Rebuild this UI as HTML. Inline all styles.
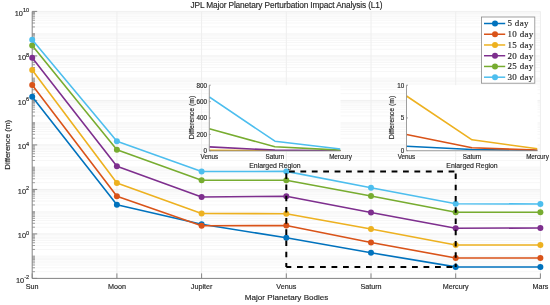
<!DOCTYPE html><html><head><meta charset="utf-8"><style>html,body{margin:0;padding:0;background:#fff;overflow:hidden}svg{display:block;will-change:transform}text{stroke:#262626;stroke-width:.15px}</style></head><body>
<svg width="550" height="305" viewBox="0 0 550 305">
<rect width="550" height="305" fill="#fff"/>
<g id="grid"><line x1="32.2" y1="271.70" x2="540.5" y2="271.70" stroke="#f7f7f7" stroke-width="1"/><line x1="32.2" y1="267.78" x2="540.5" y2="267.78" stroke="#f7f7f7" stroke-width="1"/><line x1="32.2" y1="265.00" x2="540.5" y2="265.00" stroke="#f7f7f7" stroke-width="1"/><line x1="32.2" y1="262.85" x2="540.5" y2="262.85" stroke="#f7f7f7" stroke-width="1"/><line x1="32.2" y1="261.09" x2="540.5" y2="261.09" stroke="#f7f7f7" stroke-width="1"/><line x1="32.2" y1="259.60" x2="540.5" y2="259.60" stroke="#f7f7f7" stroke-width="1"/><line x1="32.2" y1="258.31" x2="540.5" y2="258.31" stroke="#f7f7f7" stroke-width="1"/><line x1="32.2" y1="257.17" x2="540.5" y2="257.17" stroke="#f7f7f7" stroke-width="1"/><line x1="32.2" y1="256.15" x2="540.5" y2="256.15" stroke="#f7f7f7" stroke-width="1"/><line x1="32.2" y1="249.45" x2="540.5" y2="249.45" stroke="#f7f7f7" stroke-width="1"/><line x1="32.2" y1="245.53" x2="540.5" y2="245.53" stroke="#f7f7f7" stroke-width="1"/><line x1="32.2" y1="242.75" x2="540.5" y2="242.75" stroke="#f7f7f7" stroke-width="1"/><line x1="32.2" y1="240.60" x2="540.5" y2="240.60" stroke="#f7f7f7" stroke-width="1"/><line x1="32.2" y1="238.84" x2="540.5" y2="238.84" stroke="#f7f7f7" stroke-width="1"/><line x1="32.2" y1="237.35" x2="540.5" y2="237.35" stroke="#f7f7f7" stroke-width="1"/><line x1="32.2" y1="236.06" x2="540.5" y2="236.06" stroke="#f7f7f7" stroke-width="1"/><line x1="32.2" y1="234.92" x2="540.5" y2="234.92" stroke="#f7f7f7" stroke-width="1"/><line x1="32.2" y1="227.20" x2="540.5" y2="227.20" stroke="#f7f7f7" stroke-width="1"/><line x1="32.2" y1="223.28" x2="540.5" y2="223.28" stroke="#f7f7f7" stroke-width="1"/><line x1="32.2" y1="220.50" x2="540.5" y2="220.50" stroke="#f7f7f7" stroke-width="1"/><line x1="32.2" y1="218.35" x2="540.5" y2="218.35" stroke="#f7f7f7" stroke-width="1"/><line x1="32.2" y1="216.59" x2="540.5" y2="216.59" stroke="#f7f7f7" stroke-width="1"/><line x1="32.2" y1="215.10" x2="540.5" y2="215.10" stroke="#f7f7f7" stroke-width="1"/><line x1="32.2" y1="213.81" x2="540.5" y2="213.81" stroke="#f7f7f7" stroke-width="1"/><line x1="32.2" y1="212.67" x2="540.5" y2="212.67" stroke="#f7f7f7" stroke-width="1"/><line x1="32.2" y1="211.65" x2="540.5" y2="211.65" stroke="#f7f7f7" stroke-width="1"/><line x1="32.2" y1="204.95" x2="540.5" y2="204.95" stroke="#f7f7f7" stroke-width="1"/><line x1="32.2" y1="201.03" x2="540.5" y2="201.03" stroke="#f7f7f7" stroke-width="1"/><line x1="32.2" y1="198.25" x2="540.5" y2="198.25" stroke="#f7f7f7" stroke-width="1"/><line x1="32.2" y1="196.10" x2="540.5" y2="196.10" stroke="#f7f7f7" stroke-width="1"/><line x1="32.2" y1="194.34" x2="540.5" y2="194.34" stroke="#f7f7f7" stroke-width="1"/><line x1="32.2" y1="192.85" x2="540.5" y2="192.85" stroke="#f7f7f7" stroke-width="1"/><line x1="32.2" y1="191.56" x2="540.5" y2="191.56" stroke="#f7f7f7" stroke-width="1"/><line x1="32.2" y1="190.42" x2="540.5" y2="190.42" stroke="#f7f7f7" stroke-width="1"/><line x1="32.2" y1="182.70" x2="540.5" y2="182.70" stroke="#f7f7f7" stroke-width="1"/><line x1="32.2" y1="178.78" x2="540.5" y2="178.78" stroke="#f7f7f7" stroke-width="1"/><line x1="32.2" y1="176.00" x2="540.5" y2="176.00" stroke="#f7f7f7" stroke-width="1"/><line x1="32.2" y1="173.85" x2="540.5" y2="173.85" stroke="#f7f7f7" stroke-width="1"/><line x1="32.2" y1="172.09" x2="540.5" y2="172.09" stroke="#f7f7f7" stroke-width="1"/><line x1="32.2" y1="170.60" x2="540.5" y2="170.60" stroke="#f7f7f7" stroke-width="1"/><line x1="32.2" y1="169.31" x2="540.5" y2="169.31" stroke="#f7f7f7" stroke-width="1"/><line x1="32.2" y1="168.17" x2="540.5" y2="168.17" stroke="#f7f7f7" stroke-width="1"/><line x1="32.2" y1="167.15" x2="540.5" y2="167.15" stroke="#f7f7f7" stroke-width="1"/><line x1="32.2" y1="160.45" x2="540.5" y2="160.45" stroke="#f7f7f7" stroke-width="1"/><line x1="32.2" y1="156.53" x2="540.5" y2="156.53" stroke="#f7f7f7" stroke-width="1"/><line x1="32.2" y1="153.75" x2="540.5" y2="153.75" stroke="#f7f7f7" stroke-width="1"/><line x1="32.2" y1="151.60" x2="540.5" y2="151.60" stroke="#f7f7f7" stroke-width="1"/><line x1="32.2" y1="149.84" x2="540.5" y2="149.84" stroke="#f7f7f7" stroke-width="1"/><line x1="32.2" y1="148.35" x2="540.5" y2="148.35" stroke="#f7f7f7" stroke-width="1"/><line x1="32.2" y1="147.06" x2="540.5" y2="147.06" stroke="#f7f7f7" stroke-width="1"/><line x1="32.2" y1="145.92" x2="540.5" y2="145.92" stroke="#f7f7f7" stroke-width="1"/><line x1="32.2" y1="138.20" x2="540.5" y2="138.20" stroke="#f7f7f7" stroke-width="1"/><line x1="32.2" y1="134.28" x2="540.5" y2="134.28" stroke="#f7f7f7" stroke-width="1"/><line x1="32.2" y1="131.50" x2="540.5" y2="131.50" stroke="#f7f7f7" stroke-width="1"/><line x1="32.2" y1="129.35" x2="540.5" y2="129.35" stroke="#f7f7f7" stroke-width="1"/><line x1="32.2" y1="127.59" x2="540.5" y2="127.59" stroke="#f7f7f7" stroke-width="1"/><line x1="32.2" y1="126.10" x2="540.5" y2="126.10" stroke="#f7f7f7" stroke-width="1"/><line x1="32.2" y1="124.81" x2="540.5" y2="124.81" stroke="#f7f7f7" stroke-width="1"/><line x1="32.2" y1="123.67" x2="540.5" y2="123.67" stroke="#f7f7f7" stroke-width="1"/><line x1="32.2" y1="122.65" x2="540.5" y2="122.65" stroke="#f7f7f7" stroke-width="1"/><line x1="32.2" y1="115.95" x2="540.5" y2="115.95" stroke="#f7f7f7" stroke-width="1"/><line x1="32.2" y1="112.03" x2="540.5" y2="112.03" stroke="#f7f7f7" stroke-width="1"/><line x1="32.2" y1="109.25" x2="540.5" y2="109.25" stroke="#f7f7f7" stroke-width="1"/><line x1="32.2" y1="107.10" x2="540.5" y2="107.10" stroke="#f7f7f7" stroke-width="1"/><line x1="32.2" y1="105.34" x2="540.5" y2="105.34" stroke="#f7f7f7" stroke-width="1"/><line x1="32.2" y1="103.85" x2="540.5" y2="103.85" stroke="#f7f7f7" stroke-width="1"/><line x1="32.2" y1="102.56" x2="540.5" y2="102.56" stroke="#f7f7f7" stroke-width="1"/><line x1="32.2" y1="101.42" x2="540.5" y2="101.42" stroke="#f7f7f7" stroke-width="1"/><line x1="32.2" y1="93.70" x2="540.5" y2="93.70" stroke="#f7f7f7" stroke-width="1"/><line x1="32.2" y1="89.78" x2="540.5" y2="89.78" stroke="#f7f7f7" stroke-width="1"/><line x1="32.2" y1="87.00" x2="540.5" y2="87.00" stroke="#f7f7f7" stroke-width="1"/><line x1="32.2" y1="84.85" x2="540.5" y2="84.85" stroke="#f7f7f7" stroke-width="1"/><line x1="32.2" y1="83.09" x2="540.5" y2="83.09" stroke="#f7f7f7" stroke-width="1"/><line x1="32.2" y1="81.60" x2="540.5" y2="81.60" stroke="#f7f7f7" stroke-width="1"/><line x1="32.2" y1="80.31" x2="540.5" y2="80.31" stroke="#f7f7f7" stroke-width="1"/><line x1="32.2" y1="79.17" x2="540.5" y2="79.17" stroke="#f7f7f7" stroke-width="1"/><line x1="32.2" y1="78.15" x2="540.5" y2="78.15" stroke="#f7f7f7" stroke-width="1"/><line x1="32.2" y1="71.45" x2="540.5" y2="71.45" stroke="#f7f7f7" stroke-width="1"/><line x1="32.2" y1="67.53" x2="540.5" y2="67.53" stroke="#f7f7f7" stroke-width="1"/><line x1="32.2" y1="64.75" x2="540.5" y2="64.75" stroke="#f7f7f7" stroke-width="1"/><line x1="32.2" y1="62.60" x2="540.5" y2="62.60" stroke="#f7f7f7" stroke-width="1"/><line x1="32.2" y1="60.84" x2="540.5" y2="60.84" stroke="#f7f7f7" stroke-width="1"/><line x1="32.2" y1="59.35" x2="540.5" y2="59.35" stroke="#f7f7f7" stroke-width="1"/><line x1="32.2" y1="58.06" x2="540.5" y2="58.06" stroke="#f7f7f7" stroke-width="1"/><line x1="32.2" y1="56.92" x2="540.5" y2="56.92" stroke="#f7f7f7" stroke-width="1"/><line x1="32.2" y1="49.20" x2="540.5" y2="49.20" stroke="#f7f7f7" stroke-width="1"/><line x1="32.2" y1="45.28" x2="540.5" y2="45.28" stroke="#f7f7f7" stroke-width="1"/><line x1="32.2" y1="42.50" x2="540.5" y2="42.50" stroke="#f7f7f7" stroke-width="1"/><line x1="32.2" y1="40.35" x2="540.5" y2="40.35" stroke="#f7f7f7" stroke-width="1"/><line x1="32.2" y1="38.59" x2="540.5" y2="38.59" stroke="#f7f7f7" stroke-width="1"/><line x1="32.2" y1="37.10" x2="540.5" y2="37.10" stroke="#f7f7f7" stroke-width="1"/><line x1="32.2" y1="35.81" x2="540.5" y2="35.81" stroke="#f7f7f7" stroke-width="1"/><line x1="32.2" y1="34.67" x2="540.5" y2="34.67" stroke="#f7f7f7" stroke-width="1"/><line x1="32.2" y1="33.65" x2="540.5" y2="33.65" stroke="#f7f7f7" stroke-width="1"/><line x1="32.2" y1="26.95" x2="540.5" y2="26.95" stroke="#f7f7f7" stroke-width="1"/><line x1="32.2" y1="23.03" x2="540.5" y2="23.03" stroke="#f7f7f7" stroke-width="1"/><line x1="32.2" y1="20.25" x2="540.5" y2="20.25" stroke="#f7f7f7" stroke-width="1"/><line x1="32.2" y1="18.10" x2="540.5" y2="18.10" stroke="#f7f7f7" stroke-width="1"/><line x1="32.2" y1="16.34" x2="540.5" y2="16.34" stroke="#f7f7f7" stroke-width="1"/><line x1="32.2" y1="14.85" x2="540.5" y2="14.85" stroke="#f7f7f7" stroke-width="1"/><line x1="32.2" y1="13.56" x2="540.5" y2="13.56" stroke="#f7f7f7" stroke-width="1"/><line x1="32.2" y1="12.42" x2="540.5" y2="12.42" stroke="#f7f7f7" stroke-width="1"/><line x1="32.2" y1="278.40" x2="540.5" y2="278.40" stroke="#f0f0f0" stroke-width="1"/><line x1="32.2" y1="233.90" x2="540.5" y2="233.90" stroke="#f0f0f0" stroke-width="1"/><line x1="32.2" y1="189.40" x2="540.5" y2="189.40" stroke="#f0f0f0" stroke-width="1"/><line x1="32.2" y1="144.90" x2="540.5" y2="144.90" stroke="#f0f0f0" stroke-width="1"/><line x1="32.2" y1="100.40" x2="540.5" y2="100.40" stroke="#f0f0f0" stroke-width="1"/><line x1="32.2" y1="55.90" x2="540.5" y2="55.90" stroke="#f0f0f0" stroke-width="1"/><line x1="32.2" y1="11.40" x2="540.5" y2="11.40" stroke="#f0f0f0" stroke-width="1"/><line x1="116.90" y1="11.40" x2="116.90" y2="278.4" stroke="#eeeeee" stroke-width="1"/><line x1="201.60" y1="11.40" x2="201.60" y2="278.4" stroke="#eeeeee" stroke-width="1"/><line x1="286.30" y1="11.40" x2="286.30" y2="278.4" stroke="#eeeeee" stroke-width="1"/><line x1="371.00" y1="11.40" x2="371.00" y2="278.4" stroke="#eeeeee" stroke-width="1"/><line x1="455.70" y1="11.40" x2="455.70" y2="278.4" stroke="#eeeeee" stroke-width="1"/><line x1="540.40" y1="11.40" x2="540.40" y2="278.4" stroke="#eeeeee" stroke-width="1"/></g>
<g id="axes"><line x1="32.2" y1="11.40" x2="32.2" y2="278.4" stroke="#858585" stroke-width="1"/><line x1="32.2" y1="278.4" x2="540.5" y2="278.4" stroke="#858585" stroke-width="1"/><line x1="32.2" y1="278.40" x2="37.2" y2="278.40" stroke="#858585" stroke-width="1"/><line x1="32.2" y1="233.90" x2="37.2" y2="233.90" stroke="#858585" stroke-width="1"/><line x1="32.2" y1="189.40" x2="37.2" y2="189.40" stroke="#858585" stroke-width="1"/><line x1="32.2" y1="144.90" x2="37.2" y2="144.90" stroke="#858585" stroke-width="1"/><line x1="32.2" y1="100.40" x2="37.2" y2="100.40" stroke="#858585" stroke-width="1"/><line x1="32.2" y1="55.90" x2="37.2" y2="55.90" stroke="#858585" stroke-width="1"/><line x1="32.2" y1="11.40" x2="37.2" y2="11.40" stroke="#858585" stroke-width="1"/><line x1="32.2" y1="271.70" x2="35.0" y2="271.70" stroke="#858585" stroke-width="0.8"/><line x1="32.2" y1="267.78" x2="35.0" y2="267.78" stroke="#858585" stroke-width="0.8"/><line x1="32.2" y1="265.00" x2="35.0" y2="265.00" stroke="#858585" stroke-width="0.8"/><line x1="32.2" y1="262.85" x2="35.0" y2="262.85" stroke="#858585" stroke-width="0.8"/><line x1="32.2" y1="261.09" x2="35.0" y2="261.09" stroke="#858585" stroke-width="0.8"/><line x1="32.2" y1="259.60" x2="35.0" y2="259.60" stroke="#858585" stroke-width="0.8"/><line x1="32.2" y1="258.31" x2="35.0" y2="258.31" stroke="#858585" stroke-width="0.8"/><line x1="32.2" y1="257.17" x2="35.0" y2="257.17" stroke="#858585" stroke-width="0.8"/><line x1="32.2" y1="256.15" x2="35.0" y2="256.15" stroke="#858585" stroke-width="0.8"/><line x1="32.2" y1="249.45" x2="35.0" y2="249.45" stroke="#858585" stroke-width="0.8"/><line x1="32.2" y1="245.53" x2="35.0" y2="245.53" stroke="#858585" stroke-width="0.8"/><line x1="32.2" y1="242.75" x2="35.0" y2="242.75" stroke="#858585" stroke-width="0.8"/><line x1="32.2" y1="240.60" x2="35.0" y2="240.60" stroke="#858585" stroke-width="0.8"/><line x1="32.2" y1="238.84" x2="35.0" y2="238.84" stroke="#858585" stroke-width="0.8"/><line x1="32.2" y1="237.35" x2="35.0" y2="237.35" stroke="#858585" stroke-width="0.8"/><line x1="32.2" y1="236.06" x2="35.0" y2="236.06" stroke="#858585" stroke-width="0.8"/><line x1="32.2" y1="234.92" x2="35.0" y2="234.92" stroke="#858585" stroke-width="0.8"/><line x1="32.2" y1="227.20" x2="35.0" y2="227.20" stroke="#858585" stroke-width="0.8"/><line x1="32.2" y1="223.28" x2="35.0" y2="223.28" stroke="#858585" stroke-width="0.8"/><line x1="32.2" y1="220.50" x2="35.0" y2="220.50" stroke="#858585" stroke-width="0.8"/><line x1="32.2" y1="218.35" x2="35.0" y2="218.35" stroke="#858585" stroke-width="0.8"/><line x1="32.2" y1="216.59" x2="35.0" y2="216.59" stroke="#858585" stroke-width="0.8"/><line x1="32.2" y1="215.10" x2="35.0" y2="215.10" stroke="#858585" stroke-width="0.8"/><line x1="32.2" y1="213.81" x2="35.0" y2="213.81" stroke="#858585" stroke-width="0.8"/><line x1="32.2" y1="212.67" x2="35.0" y2="212.67" stroke="#858585" stroke-width="0.8"/><line x1="32.2" y1="211.65" x2="35.0" y2="211.65" stroke="#858585" stroke-width="0.8"/><line x1="32.2" y1="204.95" x2="35.0" y2="204.95" stroke="#858585" stroke-width="0.8"/><line x1="32.2" y1="201.03" x2="35.0" y2="201.03" stroke="#858585" stroke-width="0.8"/><line x1="32.2" y1="198.25" x2="35.0" y2="198.25" stroke="#858585" stroke-width="0.8"/><line x1="32.2" y1="196.10" x2="35.0" y2="196.10" stroke="#858585" stroke-width="0.8"/><line x1="32.2" y1="194.34" x2="35.0" y2="194.34" stroke="#858585" stroke-width="0.8"/><line x1="32.2" y1="192.85" x2="35.0" y2="192.85" stroke="#858585" stroke-width="0.8"/><line x1="32.2" y1="191.56" x2="35.0" y2="191.56" stroke="#858585" stroke-width="0.8"/><line x1="32.2" y1="190.42" x2="35.0" y2="190.42" stroke="#858585" stroke-width="0.8"/><line x1="32.2" y1="182.70" x2="35.0" y2="182.70" stroke="#858585" stroke-width="0.8"/><line x1="32.2" y1="178.78" x2="35.0" y2="178.78" stroke="#858585" stroke-width="0.8"/><line x1="32.2" y1="176.00" x2="35.0" y2="176.00" stroke="#858585" stroke-width="0.8"/><line x1="32.2" y1="173.85" x2="35.0" y2="173.85" stroke="#858585" stroke-width="0.8"/><line x1="32.2" y1="172.09" x2="35.0" y2="172.09" stroke="#858585" stroke-width="0.8"/><line x1="32.2" y1="170.60" x2="35.0" y2="170.60" stroke="#858585" stroke-width="0.8"/><line x1="32.2" y1="169.31" x2="35.0" y2="169.31" stroke="#858585" stroke-width="0.8"/><line x1="32.2" y1="168.17" x2="35.0" y2="168.17" stroke="#858585" stroke-width="0.8"/><line x1="32.2" y1="167.15" x2="35.0" y2="167.15" stroke="#858585" stroke-width="0.8"/><line x1="32.2" y1="160.45" x2="35.0" y2="160.45" stroke="#858585" stroke-width="0.8"/><line x1="32.2" y1="156.53" x2="35.0" y2="156.53" stroke="#858585" stroke-width="0.8"/><line x1="32.2" y1="153.75" x2="35.0" y2="153.75" stroke="#858585" stroke-width="0.8"/><line x1="32.2" y1="151.60" x2="35.0" y2="151.60" stroke="#858585" stroke-width="0.8"/><line x1="32.2" y1="149.84" x2="35.0" y2="149.84" stroke="#858585" stroke-width="0.8"/><line x1="32.2" y1="148.35" x2="35.0" y2="148.35" stroke="#858585" stroke-width="0.8"/><line x1="32.2" y1="147.06" x2="35.0" y2="147.06" stroke="#858585" stroke-width="0.8"/><line x1="32.2" y1="145.92" x2="35.0" y2="145.92" stroke="#858585" stroke-width="0.8"/><line x1="32.2" y1="138.20" x2="35.0" y2="138.20" stroke="#858585" stroke-width="0.8"/><line x1="32.2" y1="134.28" x2="35.0" y2="134.28" stroke="#858585" stroke-width="0.8"/><line x1="32.2" y1="131.50" x2="35.0" y2="131.50" stroke="#858585" stroke-width="0.8"/><line x1="32.2" y1="129.35" x2="35.0" y2="129.35" stroke="#858585" stroke-width="0.8"/><line x1="32.2" y1="127.59" x2="35.0" y2="127.59" stroke="#858585" stroke-width="0.8"/><line x1="32.2" y1="126.10" x2="35.0" y2="126.10" stroke="#858585" stroke-width="0.8"/><line x1="32.2" y1="124.81" x2="35.0" y2="124.81" stroke="#858585" stroke-width="0.8"/><line x1="32.2" y1="123.67" x2="35.0" y2="123.67" stroke="#858585" stroke-width="0.8"/><line x1="32.2" y1="122.65" x2="35.0" y2="122.65" stroke="#858585" stroke-width="0.8"/><line x1="32.2" y1="115.95" x2="35.0" y2="115.95" stroke="#858585" stroke-width="0.8"/><line x1="32.2" y1="112.03" x2="35.0" y2="112.03" stroke="#858585" stroke-width="0.8"/><line x1="32.2" y1="109.25" x2="35.0" y2="109.25" stroke="#858585" stroke-width="0.8"/><line x1="32.2" y1="107.10" x2="35.0" y2="107.10" stroke="#858585" stroke-width="0.8"/><line x1="32.2" y1="105.34" x2="35.0" y2="105.34" stroke="#858585" stroke-width="0.8"/><line x1="32.2" y1="103.85" x2="35.0" y2="103.85" stroke="#858585" stroke-width="0.8"/><line x1="32.2" y1="102.56" x2="35.0" y2="102.56" stroke="#858585" stroke-width="0.8"/><line x1="32.2" y1="101.42" x2="35.0" y2="101.42" stroke="#858585" stroke-width="0.8"/><line x1="32.2" y1="93.70" x2="35.0" y2="93.70" stroke="#858585" stroke-width="0.8"/><line x1="32.2" y1="89.78" x2="35.0" y2="89.78" stroke="#858585" stroke-width="0.8"/><line x1="32.2" y1="87.00" x2="35.0" y2="87.00" stroke="#858585" stroke-width="0.8"/><line x1="32.2" y1="84.85" x2="35.0" y2="84.85" stroke="#858585" stroke-width="0.8"/><line x1="32.2" y1="83.09" x2="35.0" y2="83.09" stroke="#858585" stroke-width="0.8"/><line x1="32.2" y1="81.60" x2="35.0" y2="81.60" stroke="#858585" stroke-width="0.8"/><line x1="32.2" y1="80.31" x2="35.0" y2="80.31" stroke="#858585" stroke-width="0.8"/><line x1="32.2" y1="79.17" x2="35.0" y2="79.17" stroke="#858585" stroke-width="0.8"/><line x1="32.2" y1="78.15" x2="35.0" y2="78.15" stroke="#858585" stroke-width="0.8"/><line x1="32.2" y1="71.45" x2="35.0" y2="71.45" stroke="#858585" stroke-width="0.8"/><line x1="32.2" y1="67.53" x2="35.0" y2="67.53" stroke="#858585" stroke-width="0.8"/><line x1="32.2" y1="64.75" x2="35.0" y2="64.75" stroke="#858585" stroke-width="0.8"/><line x1="32.2" y1="62.60" x2="35.0" y2="62.60" stroke="#858585" stroke-width="0.8"/><line x1="32.2" y1="60.84" x2="35.0" y2="60.84" stroke="#858585" stroke-width="0.8"/><line x1="32.2" y1="59.35" x2="35.0" y2="59.35" stroke="#858585" stroke-width="0.8"/><line x1="32.2" y1="58.06" x2="35.0" y2="58.06" stroke="#858585" stroke-width="0.8"/><line x1="32.2" y1="56.92" x2="35.0" y2="56.92" stroke="#858585" stroke-width="0.8"/><line x1="32.2" y1="49.20" x2="35.0" y2="49.20" stroke="#858585" stroke-width="0.8"/><line x1="32.2" y1="45.28" x2="35.0" y2="45.28" stroke="#858585" stroke-width="0.8"/><line x1="32.2" y1="42.50" x2="35.0" y2="42.50" stroke="#858585" stroke-width="0.8"/><line x1="32.2" y1="40.35" x2="35.0" y2="40.35" stroke="#858585" stroke-width="0.8"/><line x1="32.2" y1="38.59" x2="35.0" y2="38.59" stroke="#858585" stroke-width="0.8"/><line x1="32.2" y1="37.10" x2="35.0" y2="37.10" stroke="#858585" stroke-width="0.8"/><line x1="32.2" y1="35.81" x2="35.0" y2="35.81" stroke="#858585" stroke-width="0.8"/><line x1="32.2" y1="34.67" x2="35.0" y2="34.67" stroke="#858585" stroke-width="0.8"/><line x1="32.2" y1="33.65" x2="35.0" y2="33.65" stroke="#858585" stroke-width="0.8"/><line x1="32.2" y1="26.95" x2="35.0" y2="26.95" stroke="#858585" stroke-width="0.8"/><line x1="32.2" y1="23.03" x2="35.0" y2="23.03" stroke="#858585" stroke-width="0.8"/><line x1="32.2" y1="20.25" x2="35.0" y2="20.25" stroke="#858585" stroke-width="0.8"/><line x1="32.2" y1="18.10" x2="35.0" y2="18.10" stroke="#858585" stroke-width="0.8"/><line x1="32.2" y1="16.34" x2="35.0" y2="16.34" stroke="#858585" stroke-width="0.8"/><line x1="32.2" y1="14.85" x2="35.0" y2="14.85" stroke="#858585" stroke-width="0.8"/><line x1="32.2" y1="13.56" x2="35.0" y2="13.56" stroke="#858585" stroke-width="0.8"/><line x1="32.2" y1="12.42" x2="35.0" y2="12.42" stroke="#858585" stroke-width="0.8"/><line x1="32.20" y1="278.4" x2="32.20" y2="273.4" stroke="#858585" stroke-width="1"/><line x1="116.90" y1="278.4" x2="116.90" y2="273.4" stroke="#858585" stroke-width="1"/><line x1="201.60" y1="278.4" x2="201.60" y2="273.4" stroke="#858585" stroke-width="1"/><line x1="286.30" y1="278.4" x2="286.30" y2="273.4" stroke="#858585" stroke-width="1"/><line x1="371.00" y1="278.4" x2="371.00" y2="273.4" stroke="#858585" stroke-width="1"/><line x1="455.70" y1="278.4" x2="455.70" y2="273.4" stroke="#858585" stroke-width="1"/><line x1="540.40" y1="278.4" x2="540.40" y2="273.4" stroke="#858585" stroke-width="1"/></g>
<g id="series">
<polyline points="32.20,96.70 116.90,204.80 201.60,224.30 286.30,237.80 371.00,252.80 455.70,266.90 540.40,267.00" fill="none" stroke="#0072BD" stroke-width="1.6" stroke-linejoin="round"/>
<circle cx="32.20" cy="96.70" r="3" fill="#0072BD"/><circle cx="116.90" cy="204.80" r="3" fill="#0072BD"/><circle cx="201.60" cy="224.30" r="3" fill="#0072BD"/><circle cx="286.30" cy="237.80" r="3" fill="#0072BD"/><circle cx="371.00" cy="252.80" r="3" fill="#0072BD"/><circle cx="455.70" cy="266.90" r="3" fill="#0072BD"/><circle cx="540.40" cy="267.00" r="3" fill="#0072BD"/>
<polyline points="32.20,85.00 116.90,196.30 201.60,225.80 286.30,225.50 371.00,242.50 455.70,258.00 540.40,258.00" fill="none" stroke="#D95319" stroke-width="1.6" stroke-linejoin="round"/>
<circle cx="32.20" cy="85.00" r="3" fill="#D95319"/><circle cx="116.90" cy="196.30" r="3" fill="#D95319"/><circle cx="201.60" cy="225.80" r="3" fill="#D95319"/><circle cx="286.30" cy="225.50" r="3" fill="#D95319"/><circle cx="371.00" cy="242.50" r="3" fill="#D95319"/><circle cx="455.70" cy="258.00" r="3" fill="#D95319"/><circle cx="540.40" cy="258.00" r="3" fill="#D95319"/>
<polyline points="32.20,70.00 116.90,183.00 201.60,213.50 286.30,213.70 371.00,229.00 455.70,245.00 540.40,245.00" fill="none" stroke="#EDB120" stroke-width="1.6" stroke-linejoin="round"/>
<circle cx="32.20" cy="70.00" r="3" fill="#EDB120"/><circle cx="116.90" cy="183.00" r="3" fill="#EDB120"/><circle cx="201.60" cy="213.50" r="3" fill="#EDB120"/><circle cx="286.30" cy="213.70" r="3" fill="#EDB120"/><circle cx="371.00" cy="229.00" r="3" fill="#EDB120"/><circle cx="455.70" cy="245.00" r="3" fill="#EDB120"/><circle cx="540.40" cy="245.00" r="3" fill="#EDB120"/>
<polyline points="32.20,57.70 116.90,166.20 201.60,197.00 286.30,196.20 371.00,212.50 455.70,228.20 540.40,228.00" fill="none" stroke="#7E2F8E" stroke-width="1.6" stroke-linejoin="round"/>
<circle cx="32.20" cy="57.70" r="3" fill="#7E2F8E"/><circle cx="116.90" cy="166.20" r="3" fill="#7E2F8E"/><circle cx="201.60" cy="197.00" r="3" fill="#7E2F8E"/><circle cx="286.30" cy="196.20" r="3" fill="#7E2F8E"/><circle cx="371.00" cy="212.50" r="3" fill="#7E2F8E"/><circle cx="455.70" cy="228.20" r="3" fill="#7E2F8E"/><circle cx="540.40" cy="228.00" r="3" fill="#7E2F8E"/>
<polyline points="32.20,45.50 116.90,149.70 201.60,180.20 286.30,180.20 371.00,196.00 455.70,212.20 540.40,212.30" fill="none" stroke="#77AC30" stroke-width="1.6" stroke-linejoin="round"/>
<circle cx="32.20" cy="45.50" r="3" fill="#77AC30"/><circle cx="116.90" cy="149.70" r="3" fill="#77AC30"/><circle cx="201.60" cy="180.20" r="3" fill="#77AC30"/><circle cx="286.30" cy="180.20" r="3" fill="#77AC30"/><circle cx="371.00" cy="196.00" r="3" fill="#77AC30"/><circle cx="455.70" cy="212.20" r="3" fill="#77AC30"/><circle cx="540.40" cy="212.30" r="3" fill="#77AC30"/>
<polyline points="32.20,39.80 116.90,141.20 201.60,171.50 286.30,171.40 371.00,187.80 455.70,203.80 540.40,204.00" fill="none" stroke="#4DBEEE" stroke-width="1.6" stroke-linejoin="round"/>
<circle cx="32.20" cy="39.80" r="3" fill="#4DBEEE"/><circle cx="116.90" cy="141.20" r="3" fill="#4DBEEE"/><circle cx="201.60" cy="171.50" r="3" fill="#4DBEEE"/><circle cx="286.30" cy="171.40" r="3" fill="#4DBEEE"/><circle cx="371.00" cy="187.80" r="3" fill="#4DBEEE"/><circle cx="455.70" cy="203.80" r="3" fill="#4DBEEE"/><circle cx="540.40" cy="204.00" r="3" fill="#4DBEEE"/>
</g>
<g id="dash">
<line x1="286.30" y1="171.4" x2="455.70" y2="171.4" stroke="#000" stroke-width="2" stroke-dasharray="5.8 5.6" stroke-dashoffset="-2.7"/>
<line x1="286.30" y1="171.4" x2="286.30" y2="266.9" stroke="#000" stroke-width="2" stroke-dasharray="5.6 5.6" stroke-dashoffset="-1.9"/>
<line x1="455.70" y1="171.4" x2="455.70" y2="266.9" stroke="#000" stroke-width="2" stroke-dasharray="5.6 5.65" stroke-dashoffset="-2.1"/>
<line x1="286.30" y1="266.9" x2="455.70" y2="266.9" stroke="#000" stroke-width="2" stroke-dasharray="5.8 5.7" stroke-dashoffset="0.8"/>
</g>
<text class="t" x="29.200000000000003" y="282.70" text-anchor="end" font-family="Liberation Sans, sans-serif" font-size="7.4" fill="#262626">10<tspan dy="-3.6" font-size="5.6">-2</tspan></text><text class="t" x="29.200000000000003" y="238.20" text-anchor="end" font-family="Liberation Sans, sans-serif" font-size="7.4" fill="#262626">10<tspan dy="-3.6" font-size="5.6">0</tspan></text><text class="t" x="29.200000000000003" y="193.70" text-anchor="end" font-family="Liberation Sans, sans-serif" font-size="7.4" fill="#262626">10<tspan dy="-3.6" font-size="5.6">2</tspan></text><text class="t" x="29.200000000000003" y="149.20" text-anchor="end" font-family="Liberation Sans, sans-serif" font-size="7.4" fill="#262626">10<tspan dy="-3.6" font-size="5.6">4</tspan></text><text class="t" x="29.200000000000003" y="104.70" text-anchor="end" font-family="Liberation Sans, sans-serif" font-size="7.4" fill="#262626">10<tspan dy="-3.6" font-size="5.6">6</tspan></text><text class="t" x="29.200000000000003" y="60.20" text-anchor="end" font-family="Liberation Sans, sans-serif" font-size="7.4" fill="#262626">10<tspan dy="-3.6" font-size="5.6">8</tspan></text><text class="t" x="29.200000000000003" y="15.70" text-anchor="end" font-family="Liberation Sans, sans-serif" font-size="7.4" fill="#262626">10<tspan dy="-3.6" font-size="5.6">10</tspan></text><text class="t" x="32.20" y="289" text-anchor="middle" font-family="Liberation Sans, sans-serif" font-size="7.2" fill="#262626">Sun</text><text class="t" x="116.90" y="289" text-anchor="middle" font-family="Liberation Sans, sans-serif" font-size="7.2" fill="#262626">Moon</text><text class="t" x="201.60" y="289" text-anchor="middle" font-family="Liberation Sans, sans-serif" font-size="7.2" fill="#262626">Jupiter</text><text class="t" x="286.30" y="289" text-anchor="middle" font-family="Liberation Sans, sans-serif" font-size="7.2" fill="#262626">Venus</text><text class="t" x="371.00" y="289" text-anchor="middle" font-family="Liberation Sans, sans-serif" font-size="7.2" fill="#262626">Saturn</text><text class="t" x="455.70" y="289" text-anchor="middle" font-family="Liberation Sans, sans-serif" font-size="7.2" fill="#262626">Mercury</text><text class="t" x="540.40" y="289" text-anchor="middle" font-family="Liberation Sans, sans-serif" font-size="7.2" fill="#262626">Mars</text><text class="t" x="286.6" y="299.8" text-anchor="middle" font-family="Liberation Sans, sans-serif" font-size="8" textLength="83.5" lengthAdjust="spacingAndGlyphs" fill="#262626">Major Planetary Bodies</text><text class="t" transform="translate(9.6,144.8) rotate(-90)" text-anchor="middle" font-family="Liberation Sans, sans-serif" font-size="7.6" textLength="50" lengthAdjust="spacingAndGlyphs" fill="#262626">Difference (m)</text><text class="t" x="286.5" y="8.3" text-anchor="middle" font-family="Liberation Sans, sans-serif" font-size="8.3" textLength="192" lengthAdjust="spacing" fill="#262626">JPL Major Planetary Perturbation Impact Analysis (L1)</text>
<clipPath id="clip209"><rect x="209.3" y="85.2" width="131.2" height="65.7"/></clipPath><rect x="209.3" y="85.2" width="131.2" height="65.7" fill="#fff"/><g clip-path="url(#clip209)"><polyline points="209.30,150.85 274.90,150.89 340.50,150.90" fill="none" stroke="#0072BD" stroke-width="1.6" stroke-linejoin="round"/><polyline points="209.30,150.70 274.90,150.87 340.50,150.89" fill="none" stroke="#D95319" stroke-width="1.6" stroke-linejoin="round"/><polyline points="209.30,150.24 274.90,150.76 340.50,150.87" fill="none" stroke="#EDB120" stroke-width="1.6" stroke-linejoin="round"/><polyline points="209.30,146.84 274.90,150.15 340.50,150.75" fill="none" stroke="#7E2F8E" stroke-width="1.6" stroke-linejoin="round"/><polyline points="209.30,128.81 274.90,146.75 340.50,150.13" fill="none" stroke="#77AC30" stroke-width="1.6" stroke-linejoin="round"/><polyline points="209.30,97.03 274.90,141.21 340.50,149.05" fill="none" stroke="#4DBEEE" stroke-width="1.6" stroke-linejoin="round"/></g><line x1="209.3" y1="85.2" x2="209.3" y2="150.9" stroke="#858585" stroke-width="0.8"/><line x1="209.3" y1="150.9" x2="340.5" y2="150.9" stroke="#858585" stroke-width="0.8"/><line x1="209.3" y1="150.90" x2="210.8" y2="150.90" stroke="#858585" stroke-width="0.8"/><text class="t" x="207.0" y="153.20" text-anchor="end" font-family="Liberation Sans, sans-serif" font-size="6.3" fill="#262626">0</text><line x1="209.3" y1="134.47" x2="210.8" y2="134.47" stroke="#858585" stroke-width="0.8"/><text class="t" x="207.0" y="136.78" text-anchor="end" font-family="Liberation Sans, sans-serif" font-size="6.3" fill="#262626">200</text><line x1="209.3" y1="118.05" x2="210.8" y2="118.05" stroke="#858585" stroke-width="0.8"/><text class="t" x="207.0" y="120.35" text-anchor="end" font-family="Liberation Sans, sans-serif" font-size="6.3" fill="#262626">400</text><line x1="209.3" y1="101.62" x2="210.8" y2="101.62" stroke="#858585" stroke-width="0.8"/><text class="t" x="207.0" y="103.92" text-anchor="end" font-family="Liberation Sans, sans-serif" font-size="6.3" fill="#262626">600</text><line x1="209.3" y1="85.20" x2="210.8" y2="85.20" stroke="#858585" stroke-width="0.8"/><text class="t" x="207.0" y="87.50" text-anchor="end" font-family="Liberation Sans, sans-serif" font-size="6.3" fill="#262626">800</text><text class="t" x="209.30" y="158.9" text-anchor="middle" font-family="Liberation Sans, sans-serif" font-size="6.3" fill="#262626">Venus</text><text class="t" x="274.90" y="158.9" text-anchor="middle" font-family="Liberation Sans, sans-serif" font-size="6.3" fill="#262626">Saturn</text><text class="t" x="340.50" y="158.9" text-anchor="middle" font-family="Liberation Sans, sans-serif" font-size="6.3" fill="#262626">Mercury</text><text class="t" x="274.90" y="168.2" text-anchor="middle" font-family="Liberation Sans, sans-serif" font-size="6.9" fill="#262626">Enlarged Region</text><text class="t" transform="translate(194.0,117.4) rotate(-90)" text-anchor="middle" font-family="Liberation Sans, sans-serif" font-size="6.9" fill="#262626">Difference (m)</text>
<clipPath id="clip406"><rect x="406.5" y="85.2" width="131.0" height="65.49999999999999"/></clipPath><rect x="406.5" y="85.2" width="131.0" height="65.49999999999999" fill="#fff"/><g clip-path="url(#clip406)"><polyline points="406.50,146.31 472.00,149.52 537.50,150.50" fill="none" stroke="#0072BD" stroke-width="1.6" stroke-linejoin="round"/><polyline points="406.50,134.52 472.00,147.82 537.50,150.11" fill="none" stroke="#D95319" stroke-width="1.6" stroke-linejoin="round"/><polyline points="406.50,96.01 472.00,139.83 537.50,148.80" fill="none" stroke="#EDB120" stroke-width="1.6" stroke-linejoin="round"/></g><line x1="406.5" y1="85.2" x2="406.5" y2="150.7" stroke="#858585" stroke-width="0.8"/><line x1="406.5" y1="150.7" x2="537.5" y2="150.7" stroke="#858585" stroke-width="0.8"/><line x1="406.5" y1="150.70" x2="408.0" y2="150.70" stroke="#858585" stroke-width="0.8"/><text class="t" x="404.2" y="153.00" text-anchor="end" font-family="Liberation Sans, sans-serif" font-size="6.3" fill="#262626">0</text><line x1="406.5" y1="117.95" x2="408.0" y2="117.95" stroke="#858585" stroke-width="0.8"/><text class="t" x="404.2" y="120.25" text-anchor="end" font-family="Liberation Sans, sans-serif" font-size="6.3" fill="#262626">5</text><line x1="406.5" y1="85.20" x2="408.0" y2="85.20" stroke="#858585" stroke-width="0.8"/><text class="t" x="404.2" y="87.50" text-anchor="end" font-family="Liberation Sans, sans-serif" font-size="6.3" fill="#262626">10</text><text class="t" x="406.50" y="158.9" text-anchor="middle" font-family="Liberation Sans, sans-serif" font-size="6.3" fill="#262626">Venus</text><text class="t" x="472.00" y="158.9" text-anchor="middle" font-family="Liberation Sans, sans-serif" font-size="6.3" fill="#262626">Saturn</text><text class="t" x="537.50" y="158.9" text-anchor="middle" font-family="Liberation Sans, sans-serif" font-size="6.3" fill="#262626">Mercury</text><text class="t" x="472.00" y="168.2" text-anchor="middle" font-family="Liberation Sans, sans-serif" font-size="6.9" fill="#262626">Enlarged Region</text><text class="t" transform="translate(393.6,117.4) rotate(-90)" text-anchor="middle" font-family="Liberation Sans, sans-serif" font-size="6.9" fill="#262626">Difference (m)</text>
<g id="legend"><rect x="481.5" y="17" width="53.3" height="66.2" fill="#fff" stroke="#8a8a8a" stroke-width="0.8"/><line x1="484" y1="23.50" x2="505.2" y2="23.50" stroke="#0072BD" stroke-width="1.5"/><circle cx="495" cy="23.50" r="3" fill="#0072BD"/><text class="t" x="507.5" y="26.40" font-family="Liberation Serif, serif" font-size="9" letter-spacing="0.3" fill="#262626">5 day</text><line x1="484" y1="34.24" x2="505.2" y2="34.24" stroke="#D95319" stroke-width="1.5"/><circle cx="495" cy="34.24" r="3" fill="#D95319"/><text class="t" x="507.5" y="37.14" font-family="Liberation Serif, serif" font-size="9" letter-spacing="0.3" fill="#262626">10 day</text><line x1="484" y1="44.98" x2="505.2" y2="44.98" stroke="#EDB120" stroke-width="1.5"/><circle cx="495" cy="44.98" r="3" fill="#EDB120"/><text class="t" x="507.5" y="47.88" font-family="Liberation Serif, serif" font-size="9" letter-spacing="0.3" fill="#262626">15 day</text><line x1="484" y1="55.72" x2="505.2" y2="55.72" stroke="#7E2F8E" stroke-width="1.5"/><circle cx="495" cy="55.72" r="3" fill="#7E2F8E"/><text class="t" x="507.5" y="58.62" font-family="Liberation Serif, serif" font-size="9" letter-spacing="0.3" fill="#262626">20 day</text><line x1="484" y1="66.46" x2="505.2" y2="66.46" stroke="#77AC30" stroke-width="1.5"/><circle cx="495" cy="66.46" r="3" fill="#77AC30"/><text class="t" x="507.5" y="69.36" font-family="Liberation Serif, serif" font-size="9" letter-spacing="0.3" fill="#262626">25 day</text><line x1="484" y1="77.20" x2="505.2" y2="77.20" stroke="#4DBEEE" stroke-width="1.5"/><circle cx="495" cy="77.20" r="3" fill="#4DBEEE"/><text class="t" x="507.5" y="80.10" font-family="Liberation Serif, serif" font-size="9" letter-spacing="0.3" fill="#262626">30 day</text></g>
</svg></body></html>
